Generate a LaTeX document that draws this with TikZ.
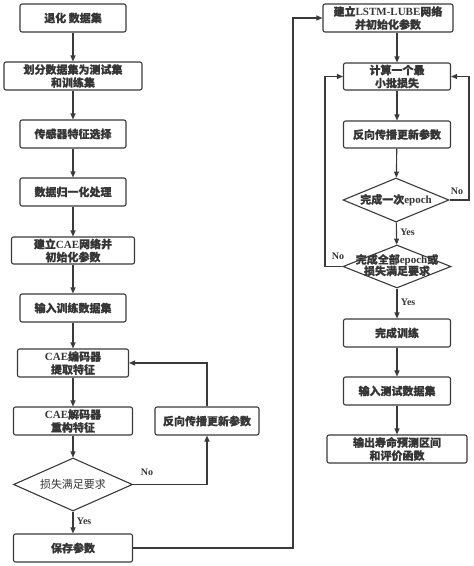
\documentclass[tikz,border=0pt]{standalone}
\usepackage{fontspec}
\setmainfont{Liberation Serif}
\newfontfamily\cjk[FakeBold=0.6]{Noto Sans CJK SC}
\newcommand\zh[1]{{\cjk #1}}
\usetikzlibrary{shapes.geometric,arrows.meta}
\definecolor{ln}{HTML}{3A3A3A}
\definecolor{tx}{HTML}{363636}
\begin{document}
\begin{tikzpicture}[x=1pt,y=-1pt,
  every node/.style={text=tx,font=\fontsize{11}{13}\selectfont\bfseries},
  box/.style={draw=ln,line width=1.1pt,rounded corners=2pt,fill=white,minimum height=28pt,inner sep=1pt,align=center},
  dia/.style={draw=ln,line width=1.1pt,diamond,fill=white,inner sep=0pt},
  arr/.style={draw=ln,line width=1.1pt,-{Triangle[length=6pt,width=5pt]}},
  lab/.style={font=\fontsize{10}{12}\selectfont\bfseries}]
\useasboundingbox (0,0) rectangle (474,566);
% left column
\node[box,minimum width=106pt] (b1) at (73,18) {\zh{退化 数据集}};
\node[box,minimum width=138pt] (b2) at (73,76) {\zh{划分数据集为测试集}\\\zh{和训练集}};
\node[box,minimum width=106pt] (b3) at (73,134) {\zh{传感器特征选择}};
\node[box,minimum width=106pt] (b4) at (73,192) {\zh{数据归一化处理}};
\node[box,minimum width=123pt,minimum height=27pt] (b5) at (73,250.5) {\zh{建立}CAE\zh{网络并}\\\zh{初始化参数}};
\node[box,minimum width=106pt] (b6) at (73,308) {\zh{输入训练数据集}};
\node[box,minimum width=111pt] (b7) at (73,363) {CAE\zh{编码器}\\\zh{提取特征}};
\node[box,minimum width=119pt] (b8) at (73,421) {CAE\zh{解码器}\\\zh{重构特征}};
\node[dia,minimum width=119pt,minimum height=53pt,label={center:\mdseries{\fontspec{Noto Sans CJK SC}损失满足要求}}] (d1) at (73,484.5) {};
\node[box,minimum width=119pt] (b9) at (73,548) {\zh{保存参数}};
\node[box,minimum width=104pt] (bp) at (207,421) {\zh{反向传播更新参数}};
% right column
\node[box,minimum width=130pt] (r1) at (388,18) {\zh{建立}LSTM-LUBE\zh{网络}\\\zh{并初始化参数}};
\node[box,minimum width=107pt,minimum height=27pt] (r2) at (397,76.5) {\zh{计算一个最}\\\zh{小批损失}};
\node[box,minimum width=107pt,minimum height=27pt] (r3) at (397,134.5) {\zh{反向传播更新参数}};
\node[dia,minimum width=106pt,minimum height=44pt,label={center:\zh{完成一次}epoch}] (d2) at (396,200) {};
\node[dia,minimum width=108pt,minimum height=43pt,label={center:{\begin{tabular}{@{}c@{}}\zh{完成全部}epoch\zh{或}\\[-2pt]\zh{损失满足要求}\end{tabular}}}] (d3) at (397,266.5) {};
\node[box,minimum width=107pt] (r4) at (397,333) {\zh{完成训练}};
\node[box,minimum width=107pt] (r5) at (397,391) {\zh{输入测试数据集}};
\node[box,minimum width=140pt] (r6) at (397,449) {\zh{输出寿命预测区间}\\\zh{和评价函数}};
% left arrows
\draw[arr] (b1) -- (b2);
\draw[arr] (b2) -- (b3);
\draw[arr] (b3) -- (b4);
\draw[arr] (b4) -- (b5);
\draw[arr] (b5) -- (b6);
\draw[arr] (b6) -- (b7);
\draw[arr] (b7) -- (b8);
\draw[arr] (b8) -- (d1);
\draw[arr] (d1) -- node[lab,right,pos=0.45] {Yes} (b9);
\draw[arr] (d1.east) -| (bp.south);
\node[lab] (no1) at (147,472) {No};
\draw[arr] (bp.north) |- (b7.east);
\coordinate (c1) at (293,548);
\draw[arr] (b9.east) -- (c1) |- (r1.west);
% right arrows
\draw[arr] (r2.north |- r1.south) -- (r2.north);
\draw[arr] (r2) -- (r3);
\draw[arr] (r3) -- (d2);
\draw[arr] (d2) -- node[lab,right,pos=0.45] {Yes} (d3);
\draw[arr] (d3) -- node[lab,right,pos=0.45] {Yes} (r4);
\draw[arr] (r4) -- (r5);
\draw[arr] (r5) -- (r6);
\coordinate (c2) at (469,200);
\draw[arr] (d2.east) -- (c2) |- (r2.east);
\node[lab] (no2) at (457,191) {No};
\coordinate (c3) at (325,266.5);
\draw[arr] (d3.west) -- (c3) |- (r2.west);
\node[lab] (no3) at (338,256) {No};
\end{tikzpicture}
\end{document}
